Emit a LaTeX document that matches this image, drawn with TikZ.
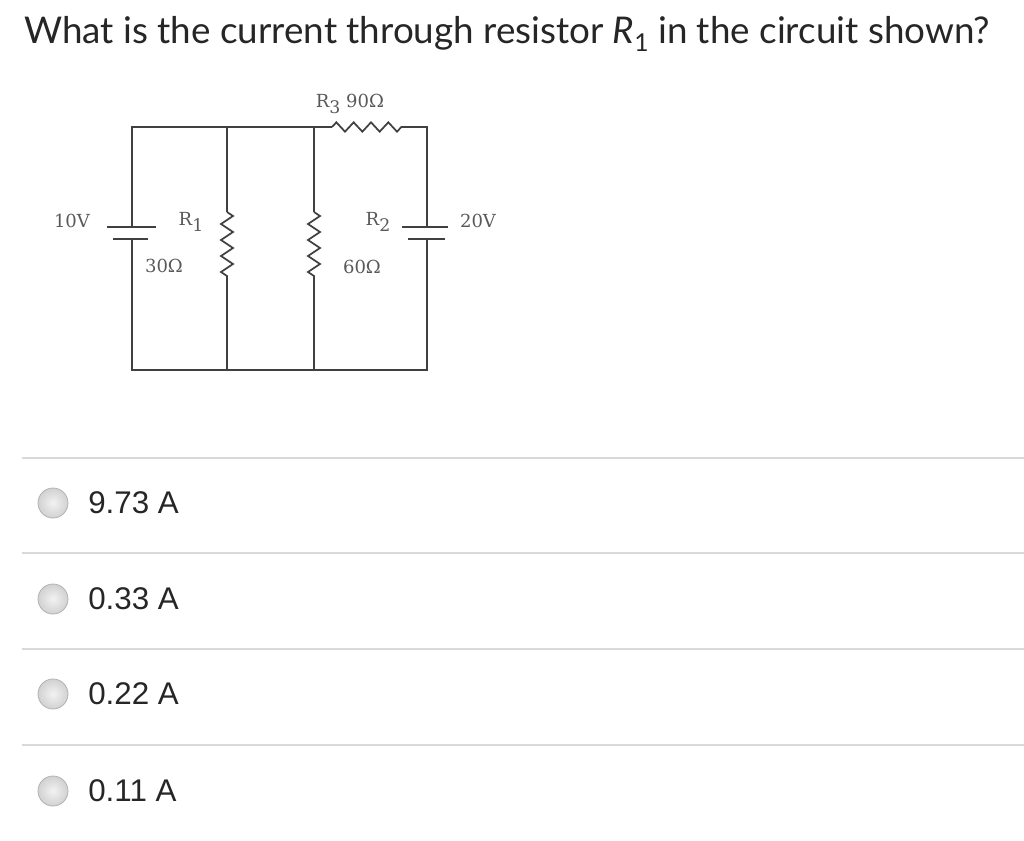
\documentclass[tikz,border=0pt]{standalone}
\usepackage{fontspec}
\setmainfont{Lato}
\newfontfamily\optfont{Liberation Sans}
\newfontfamily\circfont{DejaVu Serif}
\usetikzlibrary{decorations.pathmorphing}
\newcommand{\csub}[1]{\raisebox{-0.3em}{\fontsize{13}{14}\selectfont #1}}
\begin{document}
\begin{tikzpicture}[x=0.75pt,y=-0.75pt,
  wire/.style={line width=1.3pt,color=black!75},
  res/.style={wire,decoration={zigzag,segment length=12pt,amplitude=4.5pt},decorate},
  lbl/.style={font=\circfont\fontsize{13.5}{16}\selectfont,text=black!65,inner sep=0pt},
  sep/.style={color=black!15,line width=0.8pt},
  opt/.style={font=\optfont\fontsize{23.5}{26}\selectfont,anchor=west,inner sep=0pt,text=black!85},
  radio/.style={circle,minimum size=22.5pt,draw=black!30,inner color=black!5,outer color=black!18,line width=0.6pt,inner sep=0pt}]
\useasboundingbox (0,0) rectangle (1024,841);
\node[anchor=west,inner sep=0pt,font=\fontsize{27.6}{32}\selectfont,text=black!85] (q) at (24,34) {What is the current through resistor \textit{R}\raisebox{-0.2em}{\fontsize{18.5}{20}\selectfont 1} in the circuit shown?};
% circuit coordinates
\coordinate (TL) at (132,127); \coordinate (T1) at (227,127); \coordinate (T2) at (314,127);
\coordinate (R3a) at (332,127); \coordinate (R3b) at (403,127); \coordinate (TR) at (427,127);
\coordinate (BL) at (132,370); \coordinate (B1) at (227,370); \coordinate (B2) at (314,370); \coordinate (BR) at (427,370);
\coordinate (L1) at (132,227); \coordinate (L2) at (132,239);
\coordinate (Rr1) at (427,227); \coordinate (Rr2) at (427,239);
\coordinate (R1a) at (227,212); \coordinate (R1b) at (227,282);
\coordinate (R2a) at (314,212); \coordinate (R2b) at (314,282);
\draw[wire] (R3a) -- (TL) -- (L1);
\draw[wire] (L2) -- (BL) -- (BR) -- (Rr2);
\draw[wire] (Rr1) -- (TR) -- (R3b);
\draw[wire] (T1) -- (R1a); \draw[wire] (R1b) -- (B1);
\draw[wire] (T2) -- (R2a); \draw[wire] (R2b) -- (B2);
\draw[res] (R1a) -- (R1b);
\draw[res] (R2a) -- (R2b);
\draw[res,decoration={amplitude=3.5pt,segment length=13pt}] (R3a) -- (R3b);
\draw[wire] (107,227) -- (156,227); \draw[wire] (113,239) -- (148,239);
\draw[wire] (402,227) -- (448,227); \draw[wire] (408,239) -- (445,239);
\node[lbl] (v10) at (72,221) {10V};
\node[lbl] (r1) at (191,222) {R\csub{1}};
\node[lbl] (r1v) at (164,266) {30Ω};
\node[lbl] (r2) at (378,222) {R\csub{2}};
\node[lbl] (v20) at (478,221) {20V};
\node[lbl] (r2v) at (362,267) {60Ω};
\node[lbl] (r3) at (350,104) {R\csub{3} 90Ω};
% options
\draw[sep] (22,458) -- (1024,458);
\draw[sep] (22,553) -- (1024,553);
\draw[sep] (22,649) -- (1024,649);
\draw[sep] (22,745) -- (1024,745);
\node[radio] (c1) at (53,503) {}; \node[opt] (o1) at (88,503) {9.73 A};
\node[radio] (c2) at (53,599) {}; \node[opt] (o2) at (88,599) {0.33 A};
\node[radio] (c3) at (53,694) {}; \node[opt] (o3) at (88,694) {0.22 A};
\node[radio] (c4) at (53,791) {}; \node[opt] (o4) at (88,791) {0.11 A};
\end{tikzpicture}
\end{document}
